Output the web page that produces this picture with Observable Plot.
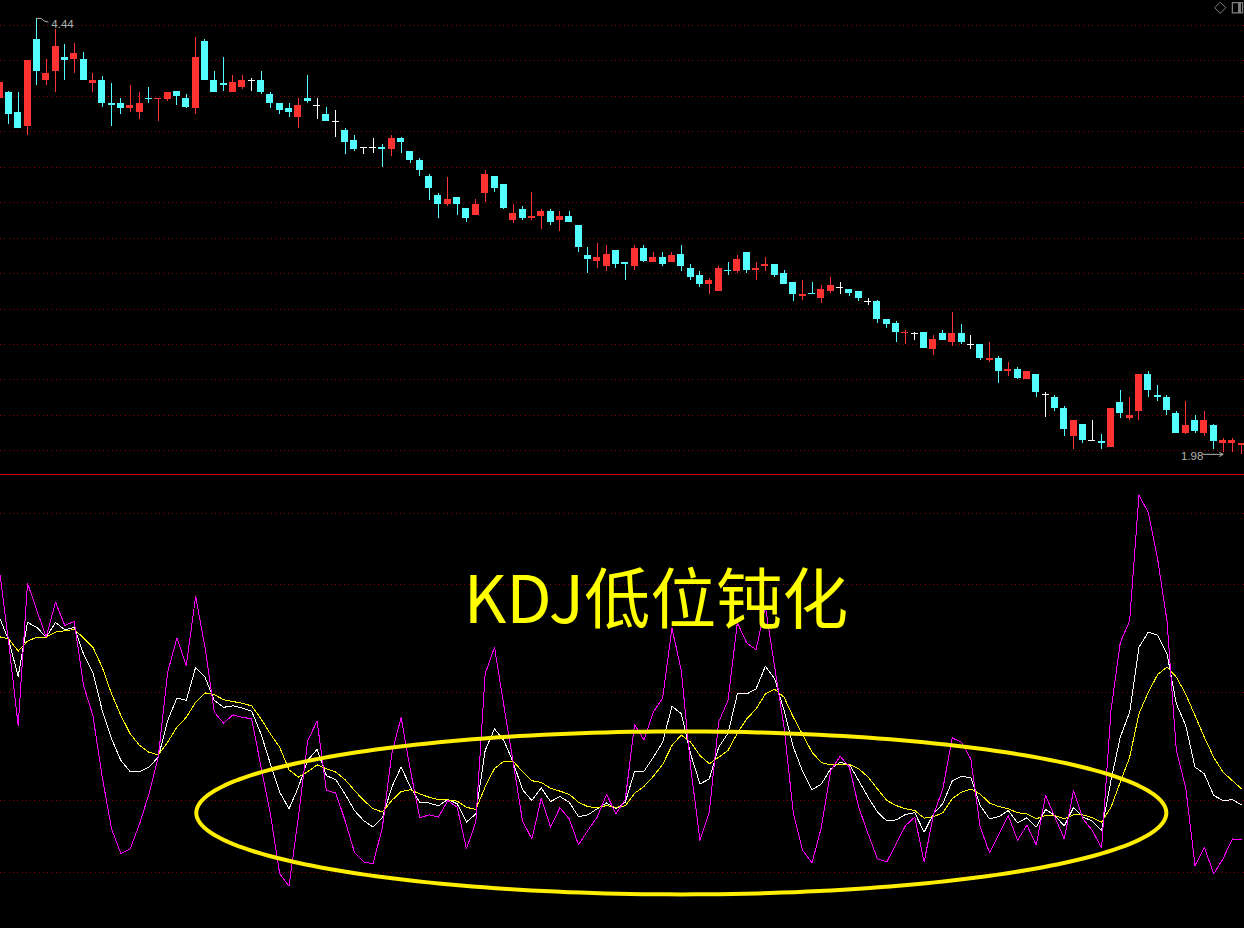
<!DOCTYPE html>
<html><head><meta charset="utf-8">
<style>html,body{margin:0;padding:0;background:#000;overflow:hidden}svg{display:block}</style>
<script src="https://cdn.jsdelivr.net/npm/d3@7"></script>
<script src="https://cdn.jsdelivr.net/npm/@observablehq/plot@0.6"></script>
</head><body><div id="chart"></div>
<script>
const opens=[3.99,4.02,3.91,3.83,4.32,4.09,4.14,4.22,4.21,4.21,
4.07,4.09,3.96,3.96,3.93,3.91,3.99,3.98,3.98,4.03,
3.99,3.93,4.31,4.09,4.07,4.02,4.05,4.09,4.09,4.01,
3.96,3.93,3.88,3.99,3.95,3.90,3.86,3.81,3.75,3.71,
3.71,3.71,3.70,3.76,3.69,3.64,3.55,3.44,3.39,3.43,
3.37,3.33,3.45,3.55,3.50,3.30,3.36,3.31,3.32,3.35,
3.30,3.32,3.27,3.10,3.07,3.04,3.13,3.06,3.04,3.14,
3.06,3.09,3.06,3.11,3.03,2.99,2.94,2.90,3.02,3.01,
3.12,3.02,3.04,3.05,3.00,2.95,2.87,2.89,2.86,2.90,
2.92,2.91,2.90,2.84,2.84,2.74,2.72,2.66,2.66,2.67,
2.57,2.66,2.61,2.66,2.60,2.60,2.51,2.52,2.45,2.46,
2.40,2.43,2.32,2.30,2.24,2.08,2.15,2.06,2.05,2.02,
2.27,2.18,2.22,2.43,2.31,2.30,2.21,2.10,2.17,2.10,
2.14,2.04,2.04,2.03];
const closes=[4.08,3.90,3.82,4.20,4.14,4.13,4.28,4.20,4.24,4.09,
4.09,3.96,3.95,3.93,3.95,3.96,3.98,3.99,4.02,4.00,
3.94,4.22,4.09,4.02,4.06,4.08,4.09,4.09,4.02,3.96,
3.92,3.91,3.95,3.97,3.95,3.86,3.86,3.74,3.70,3.71,
3.71,3.70,3.76,3.74,3.64,3.58,3.48,3.39,3.42,3.39,
3.31,3.39,3.56,3.48,3.37,3.34,3.31,3.32,3.35,3.29,
3.32,3.29,3.15,3.08,3.09,3.11,3.05,3.05,3.14,3.07,
3.09,3.05,3.10,3.04,2.98,2.94,2.96,3.03,3.01,3.08,
3.02,3.03,3.05,2.99,2.94,2.88,2.88,2.88,2.91,2.93,
2.92,2.89,2.86,2.84,2.74,2.71,2.67,2.67,2.66,2.58,
2.63,2.62,2.66,2.61,2.60,2.52,2.52,2.45,2.46,2.41,
2.45,2.33,2.32,2.24,2.12,2.17,2.06,2.06,2.04,2.24,
2.21,2.20,2.43,2.34,2.30,2.23,2.10,2.14,2.11,2.17,
2.05,2.06,2.06,2.04];
const highs=[4.08,4.03,4.02,4.20,4.44,4.21,4.38,4.29,4.30,4.25,
4.13,4.11,4.07,3.99,4.06,4.02,4.05,3.99,4.02,4.03,
4.01,4.33,4.32,4.14,4.22,4.12,4.12,4.10,4.14,4.02,
3.96,3.96,3.99,4.12,3.99,3.94,3.92,3.82,3.78,3.71,
3.76,3.73,3.78,3.77,3.69,3.65,3.56,3.45,3.54,3.43,
3.37,3.42,3.58,3.55,3.50,3.39,3.38,3.46,3.36,3.36,
3.35,3.35,3.27,3.15,3.17,3.16,3.13,3.06,3.16,3.16,
3.12,3.12,3.12,3.16,3.05,3.01,2.97,3.04,3.06,3.10,
3.12,3.06,3.09,3.05,3.02,2.95,2.96,2.95,2.93,2.98,
2.95,2.91,2.90,2.86,2.85,2.74,2.73,2.68,2.67,2.67,
2.65,2.68,2.78,2.71,2.65,2.60,2.61,2.53,2.50,2.47,
2.45,2.43,2.33,2.31,2.25,2.17,2.15,2.17,2.09,2.24,
2.34,2.30,2.43,2.45,2.37,2.31,2.22,2.28,2.20,2.22,
2.15,2.07,2.07,2.04];
const lows=[3.99,3.84,3.82,3.78,4.06,4.06,4.02,4.09,4.13,4.09,
4.02,3.94,3.83,3.90,3.91,3.87,3.96,3.86,3.97,3.95,
3.93,3.90,4.09,4.02,4.03,4.02,4.04,4.03,4.01,3.93,
3.90,3.88,3.82,3.96,3.87,3.86,3.77,3.67,3.69,3.67,
3.68,3.60,3.66,3.68,3.62,3.55,3.41,3.31,3.38,3.33,
3.29,3.33,3.40,3.46,3.36,3.28,3.30,3.30,3.25,3.27,
3.24,3.29,3.12,3.00,3.03,3.01,3.03,2.96,3.02,3.06,
3.06,3.04,3.06,3.01,2.96,2.92,2.88,2.90,2.99,3.00,
3.00,2.96,3.01,2.98,2.94,2.84,2.85,2.88,2.83,2.89,
2.88,2.87,2.84,2.82,2.72,2.69,2.61,2.60,2.62,2.58,
2.54,2.62,2.59,2.60,2.57,2.51,2.50,2.38,2.42,2.40,
2.40,2.30,2.19,2.22,2.08,2.01,2.04,2.05,2.01,2.02,
2.18,2.17,2.17,2.30,2.28,2.20,2.10,2.09,2.10,2.08,
2.01,1.99,1.99,1.98];
const kLine=[71,64.5,54.6,69.6,68.2,65.5,69.6,67.5,68.2,60.8,55.7,45.1,37.2,31.2,28.1,28.1,29.4,32.1,42.3,48.6,47.9,57.1,54.4,47.9,46,46.4,45.8,44.9,38.6,30.3,22.4,17.8,23.8,31.3,34.3,27,25.9,21.9,17.3,14.5,12.7,15.3,23.8,29.4,23.8,19.6,19.4,18.6,20.4,19.2,14.1,16.4,34,40,36.8,30.7,23.1,20.1,23.6,19.8,21.2,19.6,15.6,16.1,17.8,19.4,17.8,19.6,28.2,28.2,32.1,36.3,46.3,44.2,33,24.7,26.1,34.9,38.8,49.7,49.7,51.1,57.4,53.9,45.1,34.9,28.1,23.1,24.7,28.9,30.7,30.1,25.6,21,16.9,14.4,14.7,16.2,16.7,11.3,16.4,19.2,25.5,26.8,26.4,18.7,15,15.6,17.3,13.9,15.3,12.7,17.6,15.9,13,18.2,15.5,14.4,11.8,25.6,37.7,44.6,62.7,66.9,66,60.9,47,41,29.4,27.5,21.5,20.1,20.3,18.9];
const dLine=[65.6,65,61.6,64.4,65.5,65.5,66.9,67.3,67.6,65.3,62.7,57.1,49.7,43.7,38.6,35.4,33.5,32.8,36.3,40.5,43.2,47.4,50,49.5,48.1,47.6,47.1,46.4,42.8,38.6,34.9,28.6,26.6,28.1,30,28.9,28,25.9,22.9,20.1,17.8,16.9,20.1,22.6,23.1,21.9,21,20.3,20.3,19.9,18.2,17.6,23.9,29,31,31,28.1,25.6,25.1,23.5,22.7,21.8,19.6,18.4,18.1,18.7,18.2,18.6,22.1,24,26.8,30.1,35.4,38.3,36.3,32.6,30.3,32.1,34,38.8,42.8,45.5,49.7,51,48.8,43.2,38.4,33.5,30.6,30,30,30.1,28.9,26.6,23.3,20.1,18.7,17.8,17.3,15.2,15.6,16.7,20.6,22.4,23.3,21.9,19.4,18.4,17.8,16.7,16.4,15,15.9,15.9,15,16.1,16.1,15.3,14.1,18.2,25.2,32.1,44.2,50.2,55.1,57.2,54.4,49.7,43.7,37.7,32.1,28,25.6,23.3];
const jLine=[84,63.6,40.9,80.5,72.9,65.5,75.2,68.7,69.9,52,43.7,26.6,12.2,5.3,6.7,13.6,21.9,32.1,55.7,65.3,57.6,76.8,62.7,44.6,41.6,43.9,43.2,42.8,29.4,16.4,-0.3,-3.7,15.5,36.7,42.2,22.9,22.2,14.5,5.7,3,2.5,12.7,33.1,43.2,28.4,15.3,16.1,15.5,20.1,18.2,6.7,14.1,55.3,62.7,46.5,30.7,14.4,9.4,20.7,12.7,18.1,15,7.8,11.8,15.5,21.8,16.4,20.4,41.2,36.9,44.6,48.6,68,56.2,29.4,9,16.9,41.9,47.9,69.5,63.9,62,74,57.1,40.5,16.4,6.2,2.8,12.7,28.4,32.4,29.4,18.2,10.8,3.9,3,8.1,13.1,15.5,3,16.1,23.3,37.5,36.3,31.6,12.7,5.6,10.8,15.9,9,13.3,7.7,21.5,15.5,9.4,22.9,15,11.8,6.9,45,64,70,105,100.1,87.2,70,34,23.8,2,7.1,-0.3,3.9,9.4,9.3];
const priceGrid=[4.4,4.2,4,3.8,3.6,3.4,3.2,3,2.8,2.6,2.4,2.2,2];
const kdjGrid=[100,80,50,20,0];
const title="KDJ低位钝化";
const highLabel="4.44", lowLabel="1.98";

const RED="#ff3232",CYAN="#54ffff",WHITE="#ffffff";
const candles=opens.map((o,i)=>({i,o,c:closes[i],h:highs[i],l:lows[i],
  color:closes[i]>o?RED:closes[i]<o?CYAN:WHITE}));
const xScale={domain:[0,133],range:[-1,1241.2]};
const crisp={shapeRendering:"crispEdges"};
const GRID="#8c0000",LABEL="#b4b4b4",UI="#808080";
const half=0.375;
const dots={stroke:GRID,strokeDasharray:"1 3.3",...crisp};

const upper=Plot.plot({
  width:1244,height:475,margin:0,
  style:{background:"#000"},
  x:{...xScale,axis:null},
  y:{domain:[2,4.4],range:[450.3,25],axis:null},
  color:{type:"identity"},
  marks:[
    Plot.ruleY(priceGrid,dots),
    Plot.ruleX(candles,{x:"i",y1:"l",y2:"h",stroke:"color",strokeWidth:1,...crisp}),
    Plot.rect(candles.filter(d=>d.o!==d.c),{x1:d=>d.i-half,x2:d=>d.i+half,
      y1:"o",y2:"c",fill:"color",...crisp}),
    Plot.ruleY(candles.filter(d=>d.o===d.c),{y:"o",x1:d=>d.i-half,x2:d=>d.i+half,stroke:"color",...crisp}),
    Plot.line([{x:4,y:4.44},{x:4.45,y:4.44},{x:4.8,y:4.425},{x:5.2,y:4.42}],{x:"x",y:"y",stroke:LABEL,strokeWidth:1}),
    Plot.text([highLabel],{x:[5.55],y:[4.405],text:d=>d,fill:LABEL,fontSize:11.5,textAnchor:"start",fontFamily:"Liberation Sans",letterSpacing:0.6}),
    Plot.text([lowLabel],{x:[126.5],y:[1.97],text:d=>d,fill:LABEL,fontSize:11.5,textAnchor:"start",fontFamily:"Liberation Sans",letterSpacing:0.6}),
    Plot.arrow([0],{x1:[128.9],x2:[131],y1:[1.98],y2:[1.98],stroke:LABEL,strokeWidth:1,bend:0,headLength:6}),
    Plot.dot([0],{x:[130.7],y:[4.5],symbol:"diamond2",r:5,stroke:UI,strokeWidth:1}),
    Plot.dot([0],{x:[132.55],y:[4.5],symbol:"square",r:5.8,stroke:UI,strokeWidth:1.2,strokeLinejoin:"round"}),
    Plot.rect([0],{x1:[132.7],x2:[133],y1:[4.47],y2:[4.53],fill:UI,...crisp}),
    Plot.ruleY([1.867],{stroke:"#e60000",strokeWidth:1,...crisp})
  ]
});

const ellipseCenter={x:73,y:16.65},ellipseR={x:51.93,y:22.65};
const ellipse=d3.range(0,361,1.5).map(a=>({
  x:ellipseCenter.x+ellipseR.x*Math.cos(a*Math.PI/180),
  y:ellipseCenter.y+ellipseR.y*Math.sin(a*Math.PI/180)}));
const idx=(d,i)=>i, val=d=>d;

const lower=Plot.plot({
  width:1244,height:453,margin:0,
  style:{background:"#000"},
  x:{...xScale,axis:null},
  y:{domain:[0,100],range:[397.3,37.5],axis:null},
  marks:[
    Plot.ruleY(kdjGrid,dots),
    Plot.lineY(kLine,{x:idx,y:val,stroke:"#ffffff",strokeWidth:1,...crisp}),
    Plot.lineY(dLine,{x:idx,y:val,stroke:"#ffff00",strokeWidth:1,...crisp}),
    Plot.lineY(jLine,{x:idx,y:val,stroke:"#ff00ff",strokeWidth:1,...crisp}),
    Plot.line(ellipse,{x:"x",y:"y",stroke:"#ffee00",strokeWidth:4}),
    Plot.text([title],{x:[49.7],y:[75.4],text:d=>d,fill:"#ffff00",fontSize:66,textAnchor:"start",
      fontFamily:"Noto Sans CJK SC"})
  ]
});
document.getElementById("chart").append(upper,lower);
</script></body></html>
